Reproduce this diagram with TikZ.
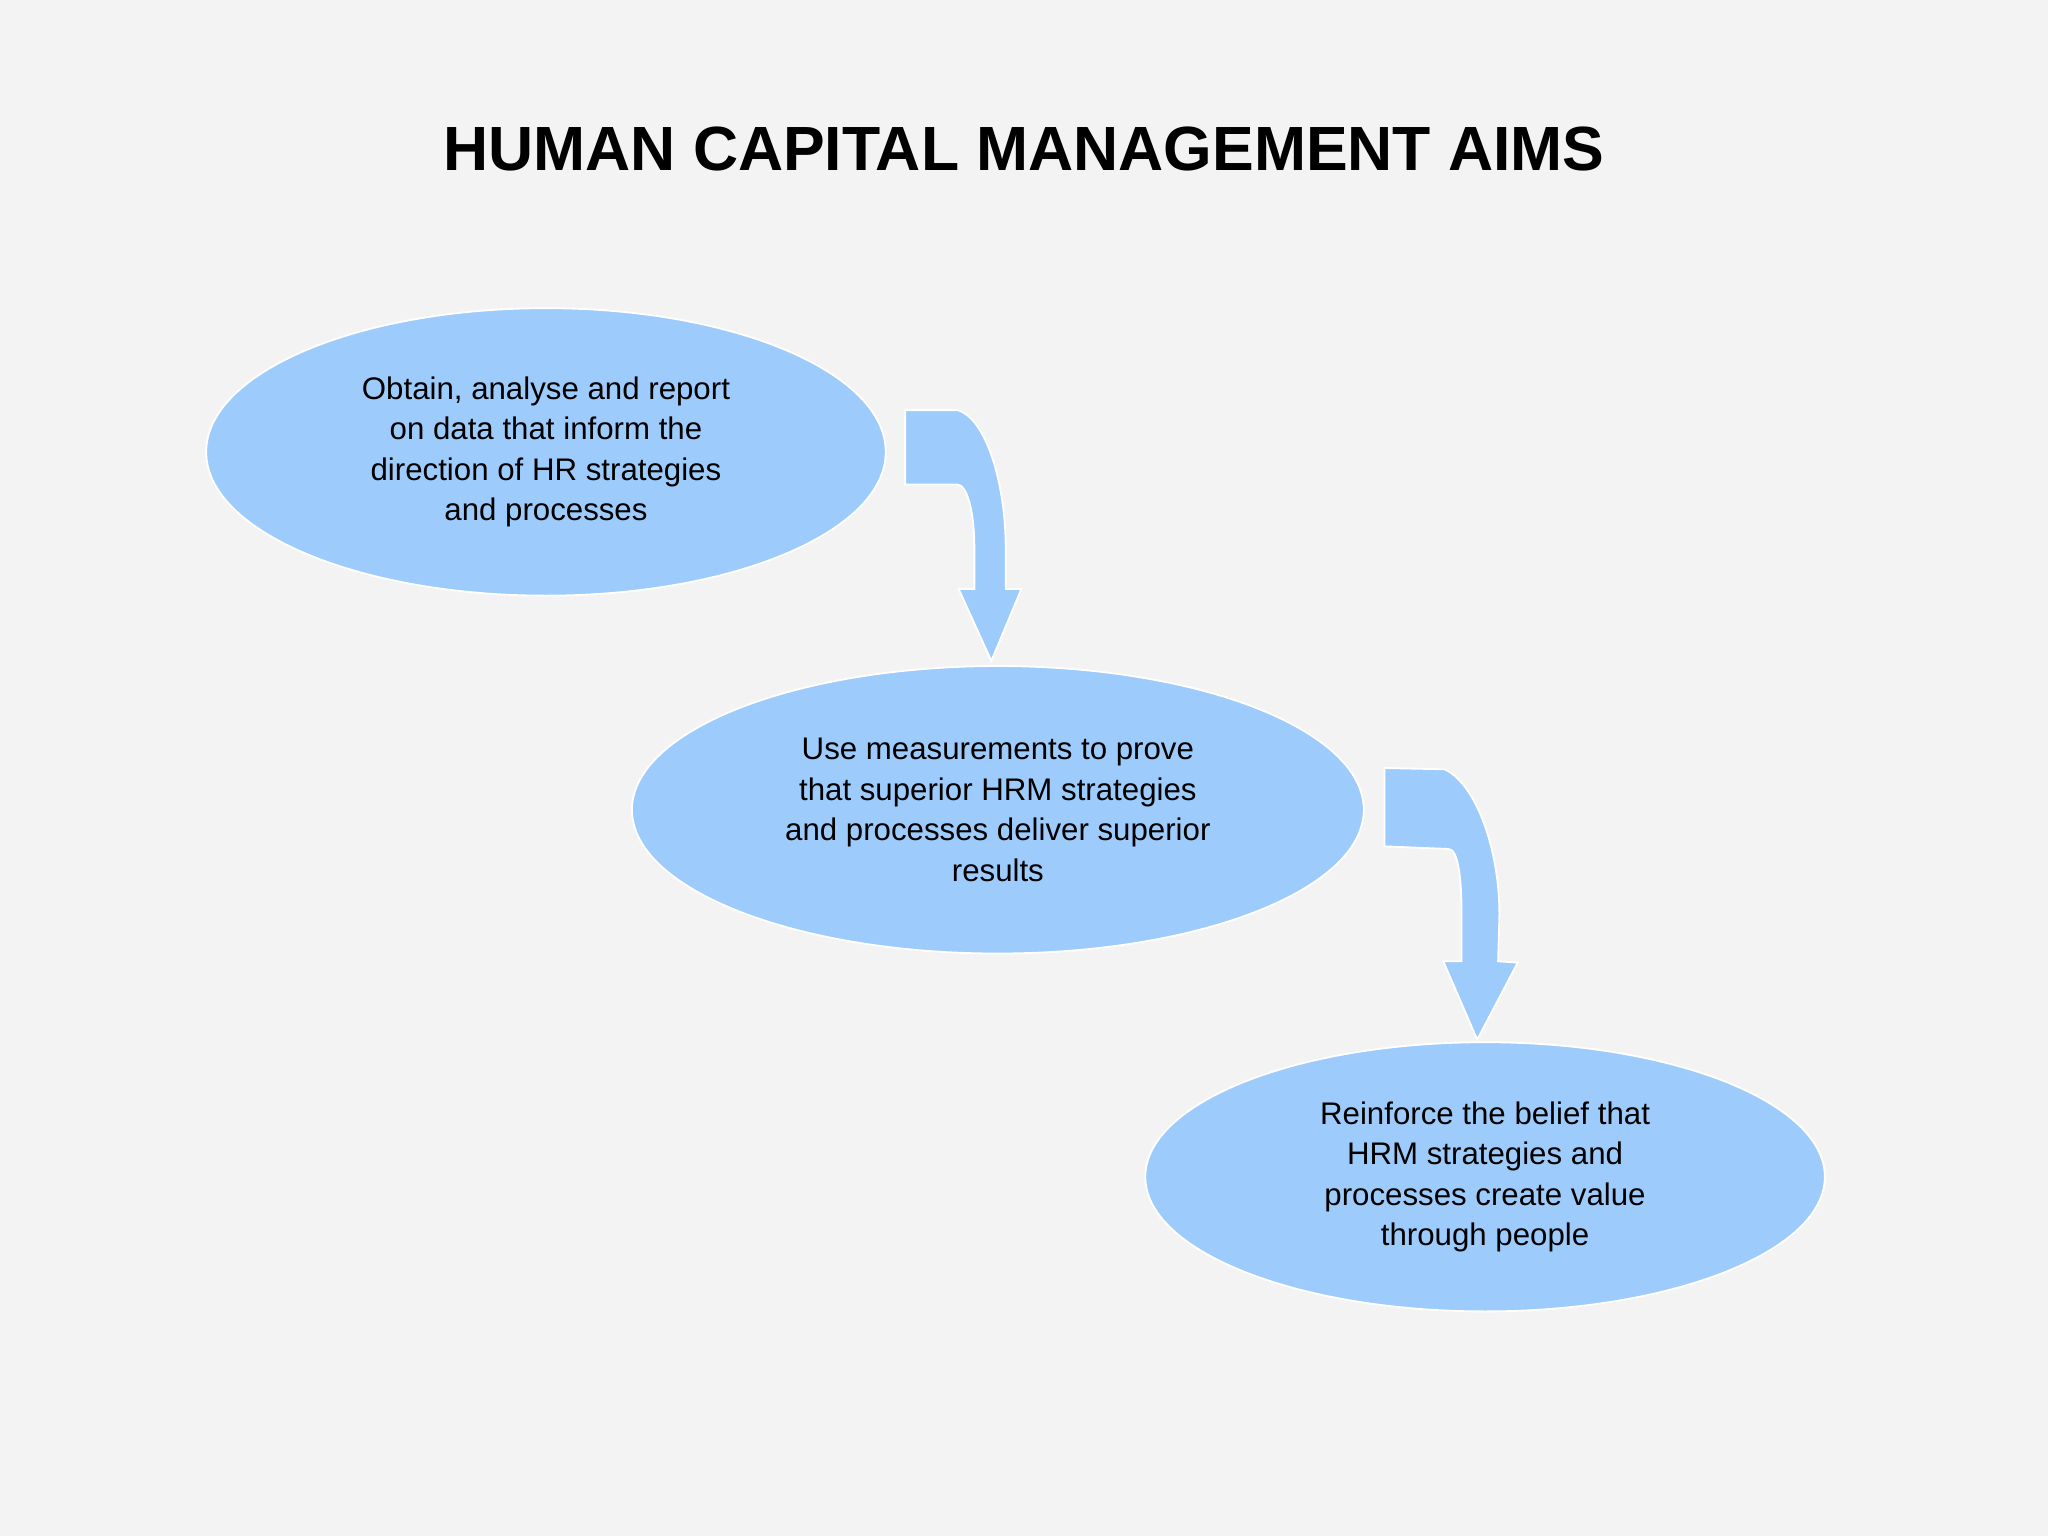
\documentclass[tikz,border=0pt]{standalone}
\usepackage{fontspec}
\setmainfont{Liberation Sans}
\definecolor{bg}{HTML}{F3F3F3}
\definecolor{blu}{HTML}{9DCBFB}
\tikzset{
  oval/.style={ellipse, fill=blu, draw=white, line width=0.4pt, font=\fontsize{6.8}{8.8}\selectfont, align=center},
  bent/.style={fill=blu, draw=white, line width=0.4pt}
}
\usetikzlibrary{shapes.geometric}
\begin{document}
\begin{tikzpicture}[x=0.01cm,y=-0.01cm]
\fill[bg] (0,0) rectangle (1568,1176);
\useasboundingbox (0,0) rectangle (1568,1176);
\node[font=\bfseries\fontsize{13.6}{16}\selectfont] (title) at (784,114) {HUMAN CAPITAL MANAGEMENT AIMS};
\node[oval, minimum width=5.2cm, minimum height=2.2cm] (e1) at (418,346) {Obtain, analyse and report\\on data that inform the\\direction of HR strategies\\and processes};
\node[oval, minimum width=5.6cm, minimum height=2.2cm] (e2) at (764,620) {Use measurements to prove\\that superior HRM strategies\\and processes deliver superior\\results};
\node[oval, minimum width=5.2cm, minimum height=2.06cm] (e3) at (1137,901) {Reinforce the belief that\\HRM strategies and\\processes create value\\through people};
\draw[bent] (693,314) -- (733,314) .. controls (755,320) and (770,370) .. (770,420) -- (770,451) -- (782,451) -- (759,506) -- (734,451) -- (746,451) -- (746,420) .. controls (746,390) and (740,371) .. (733,371) -- (693,371) -- cycle;
\draw[bent] (1060,588) -- (1106,589) .. controls (1130,600) and (1148,650) .. (1148,700) -- (1147,736) -- (1162,737) -- (1131,796) -- (1105,736) -- (1119,736) -- (1119,700) .. controls (1119,670) and (1116,650) .. (1109,650) -- (1060,648) -- cycle;
\end{tikzpicture}
\end{document}
